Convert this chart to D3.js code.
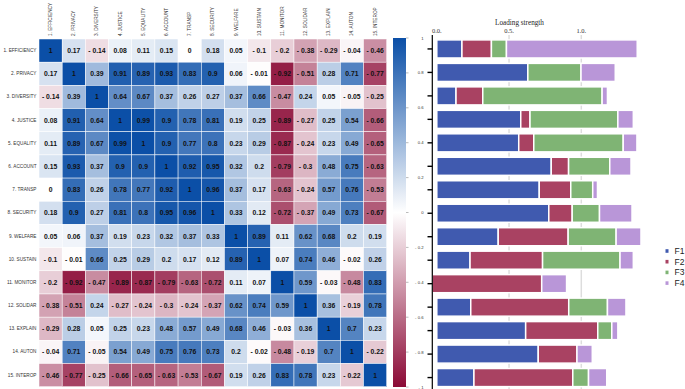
<!DOCTYPE html>
<html>
<head>
<meta charset="utf-8">
<script src="https://cdn.jsdelivr.net/npm/d3@7"></script>
<style>
  body { margin: 0; background: #fff; }
  svg { display: block; }
</style>
</head>
<body>
<svg id="chart"></svg>
<script>
// Data
const labels = ['1. EFFICIENCY', '2. PRIVACY', '3. DIVERSITY', '4. JUSTICE', '5. EQUALITY',
  '6. ACCOUNT', '7. TRANSP', '8. SECURITY', '9. WELFARE', '10. SUSTAIN',
  '11. MONITOR', '12. SOLIDAR', '13. EXPLAIN', '14. AUTON', '15. INTEROP'];

const corr = [
  [1, 0.17, -0.14, 0.08, 0.11, 0.15, 0, 0.18, 0.05, -0.1, -0.2, -0.38, -0.29, -0.04, -0.46],
  [0.17, 1, 0.39, 0.91, 0.89, 0.93, 0.83, 0.9, 0.06, -0.01, -0.92, -0.51, 0.28, 0.71, -0.77],
  [-0.14, 0.39, 1, 0.64, 0.67, 0.37, 0.26, 0.27, 0.37, 0.66, -0.47, 0.24, 0.05, -0.05, -0.25],
  [0.08, 0.91, 0.64, 1, 0.99, 0.9, 0.78, 0.81, 0.19, 0.25, -0.89, -0.27, 0.25, 0.54, -0.66],
  [0.11, 0.89, 0.67, 0.99, 1, 0.9, 0.77, 0.8, 0.23, 0.29, -0.87, -0.24, 0.23, 0.49, -0.65],
  [0.15, 0.93, 0.37, 0.9, 0.9, 1, 0.92, 0.95, 0.32, 0.2, -0.79, -0.3, 0.48, 0.75, -0.63],
  [0, 0.83, 0.26, 0.78, 0.77, 0.92, 1, 0.96, 0.37, 0.17, -0.63, -0.24, 0.57, 0.76, -0.53],
  [0.18, 0.9, 0.27, 0.81, 0.8, 0.95, 0.96, 1, 0.33, 0.12, -0.72, -0.37, 0.49, 0.73, -0.67],
  [0.05, 0.06, 0.37, 0.19, 0.23, 0.32, 0.37, 0.33, 1, 0.89, 0.11, 0.62, 0.68, 0.2, 0.19],
  [-0.1, -0.01, 0.66, 0.25, 0.29, 0.2, 0.17, 0.12, 0.89, 1, 0.07, 0.74, 0.46, -0.02, 0.26],
  [-0.2, -0.92, -0.47, -0.89, -0.87, -0.79, -0.63, -0.72, 0.11, 0.07, 1, 0.59, -0.03, -0.48, 0.83],
  [-0.38, -0.51, 0.24, -0.27, -0.24, -0.3, -0.24, -0.37, 0.62, 0.74, 0.59, 1, 0.36, -0.19, 0.78],
  [-0.29, 0.28, 0.05, 0.25, 0.23, 0.48, 0.57, 0.49, 0.68, 0.46, -0.03, 0.36, 1, 0.7, 0.23],
  [-0.04, 0.71, -0.05, 0.54, 0.49, 0.75, 0.76, 0.73, 0.2, -0.02, -0.48, -0.19, 0.7, 1, -0.22],
  [-0.46, -0.77, -0.25, -0.66, -0.65, -0.63, -0.53, -0.67, 0.19, 0.26, 0.83, 0.78, 0.23, -0.22, 1]
];

// factor loadings, one value per variable
const F1 = [0.174, 0.630, 0.133, 0.581, 0.567, 0.792, 0.709, 0.775, 0.425, 0.230, -0.032, 0.235, 0.615, 0.702, 0.257];
const F2 = [0.204, 0, 0.185, 0.064, 0.104, 0.120, 0.218, 0.162, 0.484, 0.502, 0.758, 0.678, 0.499, 0.268, 0.684];
const F3 = [0.104, 0.368, 0.826, 0.608, 0.619, 0.285, 0.152, 0.189, 0.332, 0.536, 0, 0.268, 0.097, 0, 0.109];
const F4 = [0.905, 0.237, 0.037, 0.107, 0.095, 0.147, 0.033, 0.225, 0.172, 0.092, 0.172, 0.128, 0.042, 0.106, 0.126];

const factorNames = ['F1', 'F2', 'F3', 'F4'];
const factorColors = ['#405aaf', '#a94262', '#7fb474', '#b996d8'];
const xTicks = [0, 0.5, 1.0];
const barTicks = [1, 0.8, 0.6, 0.4, 0.2, 0, -0.2, -0.4, -0.6, -0.8, -1];

// Setup
const width = 685, height = 389;
const svg = d3.select('#chart')
  .attr('width', width)
  .attr('height', height);

const sans = "'Liberation Sans', Arial, sans-serif";
const serif = "'Liberation Serif', 'Times New Roman', serif";

// Heatmap
const cell = d3.scaleBand()
  .domain(d3.range(labels.length))
  .range([39, 386.7]);

const color = d3.scaleLinear()
  .domain([-1, 0, 1])
  .range(['#8b0a36', '#ffffff', '#0b4fa7'])
  .interpolate(d3.interpolateRgb);

const cells = [];
corr.forEach((row, i) => row.forEach((v, j) => cells.push({ i, j, v })));

const heat = svg.append('g');

heat.selectAll('rect')
  .data(cells)
  .enter().append('rect')
  .attr('x', d => cell(d.j))
  .attr('y', d => cell(d.i))
  .attr('width', cell.bandwidth())
  .attr('height', cell.bandwidth())
  .attr('fill', d => color(d.v))
  .attr('stroke', '#fff')
  .attr('stroke-width', 0.5);

const fmt = v => v < 0 ? '- ' + String(Math.abs(v)) : String(v);

heat.selectAll('text.val')
  .data(cells)
  .enter().append('text')
  .attr('class', 'val')
  .attr('x', d => cell(d.j) + cell.bandwidth() / 2)
  .attr('y', d => cell(d.i) + cell.bandwidth() / 2)
  .attr('text-anchor', 'middle')
  .attr('dominant-baseline', 'central')
  .style('font-family', sans)
  .style('font-size', '6.8px')
  .style('font-weight', 'bold')
  .attr('fill', '#111')
  .text(d => fmt(d.v));

// row labels
heat.selectAll('text.row')
  .data(labels)
  .enter().append('text')
  .attr('class', 'row')
  .attr('x', 36.5)
  .attr('y', (d, i) => cell(i) + cell.bandwidth() / 2)
  .attr('text-anchor', 'end')
  .attr('dominant-baseline', 'central')
  .style('font-family', sans)
  .style('font-size', '4.7px')
  .attr('fill', '#333')
  .text(d => d);

// column labels, rotated
heat.selectAll('text.col')
  .data(labels)
  .enter().append('text')
  .attr('class', 'col')
  .attr('transform', (d, i) => `translate(${cell(i) + cell.bandwidth() / 2},36) rotate(-90)`)
  .attr('text-anchor', 'start')
  .attr('dominant-baseline', 'central')
  .style('font-family', sans)
  .style('font-size', '4.7px')
  .attr('fill', '#333')
  .text(d => d);

// Colorbar
const cbY = d3.scaleLinear().domain([1, -1]).range([38, 387]);
const defs = svg.append('defs');
const grad = defs.append('linearGradient')
  .attr('id', 'cbar')
  .attr('x1', 0).attr('y1', 0).attr('x2', 0).attr('y2', 1);
d3.range(0, 1.0001, 0.05).forEach(t => {
  grad.append('stop')
    .attr('offset', t)
    .attr('stop-color', color(1 - 2 * t));
});

svg.append('rect')
  .attr('x', 393)
  .attr('y', cbY(1))
  .attr('width', 13)
  .attr('height', cbY(-1) - cbY(1))
  .attr('fill', 'url(#cbar)');

svg.append('g')
  .selectAll('line')
  .data(barTicks)
  .enter().append('line')
  .attr('x1', 406).attr('x2', 408.5)
  .attr('y1', d => cbY(d)).attr('y2', d => cbY(d))
  .attr('stroke', '#777')
  .attr('stroke-width', 0.5);

svg.append('g')
  .selectAll('text')
  .data(barTicks)
  .enter().append('text')
  .attr('x', 423.5)
  .attr('y', d => cbY(d))
  .attr('text-anchor', 'end')
  .attr('dominant-baseline', 'central')
  .style('font-family', sans)
  .style('font-size', '4.2px')
  .attr('fill', '#333')
  .text(d => d < 0 ? '- ' + Math.abs(d) : d);

// Stacked loadings bars
const x = d3.scaleLinear().domain([0, 1]).range([436.8, 581.3]);
const y = d3.scaleBand()
  .domain(d3.range(labels.length))
  .range([37.2, 389.3])
  .paddingInner(0.23)
  .paddingOuter(0.115);

const chart = svg.append('g');

// gridlines
chart.selectAll('line.grid')
  .data(xTicks.slice(1))
  .enter().append('line')
  .attr('class', 'grid')
  .attr('x1', d => x(d)).attr('x2', d => x(d))
  .attr('y1', 35).attr('y2', 389)
  .attr('stroke', '#ddd')
  .attr('stroke-width', 1.5);

const series = [F1, F2, F3, F4];
const segs = [];
labels.forEach((l, i) => {
  let cum = 0;
  series.forEach((s, k) => {
    const v = s[i];
    if (v !== 0) segs.push({ i, k, x0: cum, x1: cum + v });
    cum += v;
  });
});

chart.selectAll('rect')
  .data(segs)
  .enter().append('rect')
  .attr('x', d => x(Math.min(d.x0, d.x1)))
  .attr('y', d => y(d.i))
  .attr('width', d => Math.abs(x(d.x1) - x(d.x0)))
  .attr('height', y.bandwidth())
  .attr('fill', d => factorColors[d.k])
  .attr('stroke', '#fff')
  .attr('stroke-width', 1.5);

// top axis labels
chart.selectAll('text.xt')
  .data(xTicks)
  .enter().append('text')
  .attr('class', 'xt')
  .attr('x', d => x(d))
  .attr('y', 32.5)
  .attr('text-anchor', 'middle')
  .style('font-family', serif)
  .style('font-size', '6.5px')
  .attr('fill', '#333')
  .text(d => d3.format('.1f')(d) + '.');

chart.append('text')
  .attr('x', 519.5)
  .attr('y', 25)
  .attr('text-anchor', 'middle')
  .style('font-family', serif)
  .style('font-size', '7.2px')
  .attr('fill', '#222')
  .text('Loading strength');

// left axis
const yAxis = d3.axisLeft(y).tickSize(4.8).tickFormat('');
const ya = chart.append('g')
  .attr('transform', 'translate(432.3,0)')
  .call(yAxis);
ya.select('.domain')
  .attr('d', 'M0,35V389')
  .attr('stroke', '#000')
  .attr('stroke-width', 1.2);
ya.selectAll('.tick line')
  .attr('stroke', '#000')
  .attr('stroke-width', 1.4);

// Legend
const legend = svg.append('g');
factorNames.forEach((name, k) => {
  const ly = 251 + k * 10.7;
  legend.append('rect')
    .attr('x', 665.5).attr('y', ly - 1.8)
    .attr('width', 3).attr('height', 3.6)
    .attr('fill', factorColors[k]);
  legend.append('text')
    .attr('x', 674.5).attr('y', ly)
    .attr('dominant-baseline', 'central')
    .style('font-family', sans)
    .style('font-size', '8.5px')
    .attr('fill', '#222')
    .text(name);
});
</script>
</body>
</html>
